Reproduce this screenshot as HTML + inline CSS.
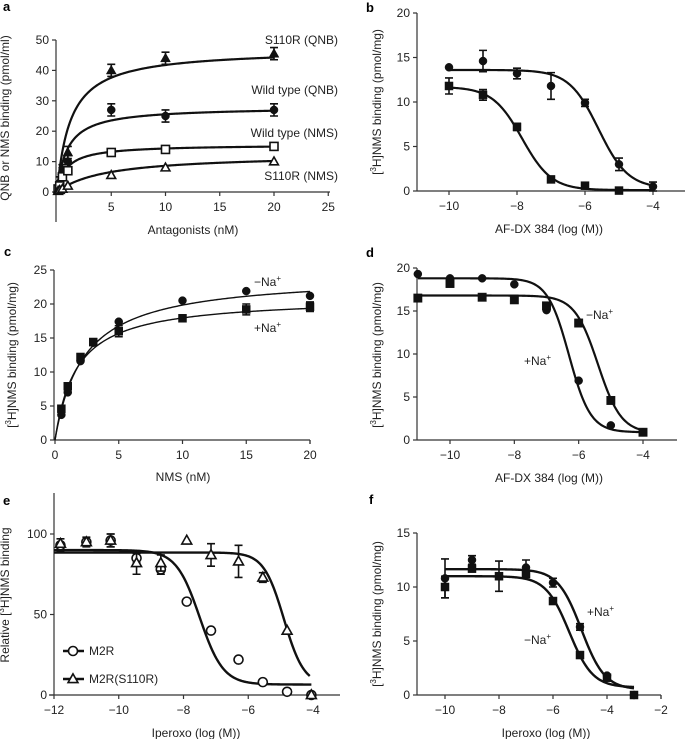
<!DOCTYPE html>
<html><head><meta charset="utf-8"><style>
body{margin:0;background:#fff}
svg{display:block;font-family:"Liberation Sans",Arial,sans-serif}
</style></head><body>
<svg id="fig" width="685" height="739" viewBox="0 0 685 739"></svg>
<script>
// ---------- data ----------
const aX=[0.1,0.25,0.5,1,5,10,20];
const aS110Q=[1,3,7,13,40,44,45.5];
const aWtQ=[1,3,6,10,27,25,27];
const aWtN=[1,2,5,7,13,14,15];
const aS110N=[0.3,0.6,1,2,5.5,8,10];
const aErr=[1,2,2,2,2,2,2];
const aFitS110Q=[47,1.25];const aFitWtQ=[28,0.95];const aFitWtN=[15.6,0.9];const aFitS110N=[12.5,4.5];
const aTicksX=[5,10,15,20,25];const aTicksY=[0,10,20,30,40,50];

const bX=[-10,-9,-8,-7,-6,-5,-4];
const bCirc=[13.9,14.6,13.2,11.8,9.9,3.0,0.5];
const bCircErr=[0,1.2,0.6,1.5,0.4,0.7,0.5];
const bSqX=[-10,-9,-8,-7,-6,-5];
const bSq=[11.8,10.8,7.2,1.3,0.6,0.05];
const bSqErr=[0.9,0.6,0.4,0,0,0];
const bFitCirc=[13.6,0.3,-5.6,1];const bFitSq=[11.7,0.1,-7.85,1];
const bTicksX=[-10,-8,-6,-4];const bTicksY=[0,5,10,15,20];

const cX=[0.5,1,2,3,5,10,15,20];
const cMinus=[3.7,7,11.6,14.3,17.4,20.5,21.9,21.2];
const cPlus=[4.6,7.9,12.2,14.4,16,17.9,19.2,19.6];
const cPlusErr=[0,0,0.5,0.5,0.8,0,0.8,0.7];
const cFitMinus=[24.3,2.25];const cFitPlus=[21,1.7];
const cTicksX=[0,5,10,15,20];const cTicksY=[0,5,10,15,20,25];

const dX=[-11,-10,-9,-8,-7,-6,-5,-4];
const dCirc=[19.3,18.8,18.8,18.1,15.1,6.9,1.7,0.9];
const dSq=[16.5,18.2,16.6,16.3,15.6,13.6,4.6,0.9];
const dFitCirc=[18.8,0.9,-6.3,1.3];const dFitSq=[16.8,0.8,-5.4,1.2];
const dTicksX=[-10,-8,-6,-4];const dTicksY=[0,5,10,15,20];

const eX=[-11.8,-11,-10.25,-9.45,-8.7,-7.9,-7.15,-6.3,-5.55,-4.8,-4.05];
const eM2R=[93,95,96,85,78,58,40,22,8,2,0];
const eM2RErr=[4,3,4,3,3,0,0,0,0,0,0];
const eS110=[94,95,96,82,82,96,87,83,73,40,0];
const eS110Err=[0,0,4,7,5,0,7,10,3,0,0];
const eFitM2R=[90,6.5,-7.5,1.2];const eFitS110=[88.5,6,-4.9,1.4];
const eTicksX=[-12,-10,-8,-6,-4];const eTicksY=[0,50,100];

const fX=[-10,-9,-8,-7,-6,-5,-4,-3];
const fPlus=[10.8,12.5,11,11.8,10.4,6.3,1.8,0];
const fPlusErr=[1.8,0.4,1.4,0.7,0.4,0.3,0,0];
const fMinus=[10,11.7,11,11.2,8.7,3.7,1.6,0];
const fMinusErr=[1,0.3,0.3,0.3,0,0,0,0];
const fFitPlus=[11.65,0.5,-4.95,1];const fFitMinus=[11.0,0.7,-5.4,1];
const fTicksX=[-10,-8,-6,-4,-2];const fTicksY=[0,5,10,15];

// ---------- drawing ----------
const NS="http://www.w3.org/2000/svg";
const svg=document.getElementById('fig');
function mk(tag,attrs,parent,text){const e=document.createElementNS(NS,tag);for(const k in attrs)e.setAttribute(k,attrs[k]);if(text!==undefined)e.textContent=text;(parent||svg).appendChild(e);return e;}
const INK="#222";
function panel(name,o){
  const g=mk('g',{},svg);
  
  
  const sx=v=>o.px0+(v-o.x0)*(o.px1-o.px0)/(o.x1-o.x0);
  const sy=v=>o.py0+(v-o.y0)*(o.py1-o.py0)/(o.y1-o.y0);
  const ax=mk('g',{stroke:"#333","stroke-width":1.2,fill:"none"},g);
  
  
  mk('line',{x1:o.ax,y1:o.axTop,x2:o.ax,y2:o.axBot},ax);
  mk('line',{x1:o.axL,y1:sy(0),x2:o.axR,y2:sy(0)},ax);
  o.ty.forEach(t=>{mk('line',{x1:o.ax-4,y1:sy(t),x2:o.ax,y2:sy(t)},ax);
    const tl=mk('text',{x:o.ax-7,y:sy(t)+4,"text-anchor":"end","font-size":12,fill:INK},g,String(t).replace('-','\u2212'));
    
    });
  o.tx.forEach(t=>{mk('line',{x1:sx(t),y1:sy(0),x2:sx(t),y2:sy(0)+4},ax);
    const tl=mk('text',{x:sx(t),y:sy(0)+19,"text-anchor":"middle","font-size":12,fill:INK},g,String(t).replace('-','\u2212'));
    
    });
  if(o.xEndTick)mk('line',{x1:o.axR,y1:sy(0),x2:o.axR,y2:sy(0)+4},ax);
  const xt=mk('text',{x:o.xtX,y:o.xtY,"text-anchor":"middle","font-size":12,fill:INK},g,o.xTitle);
  
  
  const yt=mk('text',{x:0,y:0,"text-anchor":"middle","font-size":12,fill:INK,transform:`translate(${o.ytX},${o.ytY}) rotate(-90)`},g);
  yt.innerHTML=o.yTitle;
  
  
  const pl=mk('text',{x:o.lblX,y:o.lblY,"font-size":13,"font-weight":"bold",fill:"#000"},g,o.lbl);
  
  
  return {g,sx,sy};
}
function curve(p,f,xa,xb,w,name){
  let d="";for(let i=0;i<=200;i++){const x=xa+(xb-xa)*i/200;d+=(i?"L":"M")+p.sx(x).toFixed(2)+","+p.sy(f(x)).toFixed(2);}
  const c=mk('path',{d,fill:"none",stroke:"#111","stroke-width":w},p.g);
  
  
}
const sig=q=>x=>q[1]+(q[0]-q[1])/(1+Math.pow(10,(x-q[2])*q[3]));
const hyp=q=>x=>q[0]*x/(q[1]+x);
function marker(g,shape,x,y,r,open){
  const st=open?{fill:"#fff",stroke:"#111","stroke-width":1.6}:{fill:"#111",stroke:"#111","stroke-width":0.5};
  if(shape==='c')return mk('circle',Object.assign({cx:x,cy:y,r},st),g);
  if(shape==='s')return mk('rect',Object.assign({x:x-r,y:y-r,width:2*r,height:2*r},st),g);
  return mk('polygon',Object.assign({points:`${x},${y-r*1.15} ${x-r*1.1},${y+r*0.8} ${x+r*1.1},${y+r*0.8}`},st),g);
}
function points(p,xs,ys,errs,shape,r,open,name){
  const g=mk('g',{},p.g);
  
  
  xs.forEach((x,i)=>{const X=p.sx(x),Y=p.sy(ys[i]);const e=errs?errs[i]:0;
    if(e>0){const y1=p.sy(ys[i]+e),y2=p.sy(ys[i]-e);
      mk('path',{d:`M${X},${y1}V${y2}M${X-4},${y1}H${X+4}M${X-4},${y2}H${X+4}`,stroke:"#111","stroke-width":1.6,fill:"none"},g);}
    const m=marker(g,shape,X,Y,r,open);
    
    });
}
function label(p,x,y,html,anchor,name){
  const t=mk('text',{x,y,"font-size":12,fill:INK,"text-anchor":anchor||"start"},p.g);
  t.innerHTML=html;
  
  
}
const NAp='Na<tspan dy="-5" font-size="8">+</tspan>';
const hy='[<tspan dy="-5" font-size="8">3</tspan><tspan dy="5">H]NMS binding</tspan>';

// Panel a
let p=panel('panel-a',{px0:57,x0:0,px1:274,x1:20,py0:192,y0:0,py1:40,y1:50,ax:56,axTop:40,axBot:222,axL:56,axR:330,
  tx:aTicksX,ty:aTicksY,xEndTick:false,xTitle:"Antagonists (nM)",xtX:193,xtY:234,yTitle:"QNB or NMS binding (pmol/ml)",ytX:9,ytY:118,lbl:"a",lblX:3,lblY:11});
curve(p,hyp(aFitS110Q),0,20,2.2,'curve-s110r-qnb');curve(p,hyp(aFitWtQ),0,20,2.2,'curve-wt-qnb');
curve(p,hyp(aFitWtN),0,20,2.2,'curve-wt-nms');curve(p,hyp(aFitS110N),0,20,2.2,'curve-s110r-nms');
points(p,aX,aS110Q,aErr,'t',4.5,false,'series-s110r-qnb');points(p,aX,aWtQ,aErr,'c',4,false,'series-wt-qnb');
points(p,aX,aWtN,aErr.map(v=>v/2),'s',4,true,'series-wt-nms');points(p,aX,aS110N,null,'t',4,true,'series-s110r-nms');
label(p,338,44,"S110R (QNB)","end",'label-s110r-qnb');label(p,338,94,"Wild type (QNB)","end",'label-wt-qnb');
label(p,338,137,"Wild type (NMS)","end",'label-wt-nms');label(p,338,180,"S110R (NMS)","end",'label-s110r-nms');

// Panel b
p=panel('panel-b',{px0:449,x0:-10,px1:653,x1:-4,py0:191,y0:0,py1:13,y1:20,ax:417,axTop:13,axBot:191,axL:417,axR:685,
  tx:bTicksX,ty:bTicksY,xTitle:"AF-DX 384 (log (M))",xtX:549,xtY:233,yTitle:hy+'<tspan>  (pmol/mg)</tspan>',ytX:381,ytY:102,lbl:"b",lblX:366,lblY:12});
curve(p,sig(bFitCirc),-10,-4,2.2,'curve-circles');curve(p,sig(bFitSq),-10,-4,2.2,'curve-squares');
points(p,bX,bCirc,bCircErr,'c',4,false,'series-circles');points(p,bSqX,bSq,bSqErr,'s',4,false,'series-squares');

// Panel c
p=panel('panel-c',{px0:55,x0:0,px1:310,x1:20,py0:440,y0:0,py1:270,y1:25,ax:54,axTop:270,axBot:440,axL:54,axR:310,
  tx:cTicksX,ty:cTicksY,xEndTick:true,xTitle:"NMS (nM)",xtX:183,xtY:481,yTitle:hy+'<tspan> (pmol/mg)</tspan>',ytX:16,ytY:355,lbl:"c",lblX:4,lblY:256});
curve(p,hyp(cFitMinus),0,20,1.4,'curve-minus-na');curve(p,hyp(cFitPlus),0,20,1.4,'curve-plus-na');
points(p,cX,cMinus,null,'c',4,false,'series-minus-na');points(p,cX,cPlus,cPlusErr,'s',4,false,'series-plus-na');
label(p,254,286,'\u2212'+NAp,"start",'label-minus-na');label(p,254,332,'+'+NAp,"start",'label-plus-na');

// Panel d
p=panel('panel-d',{px0:450,x0:-10,px1:643,x1:-4,py0:440,y0:0,py1:268,y1:20,ax:417,axTop:268,axBot:440,axL:417,axR:677,
  tx:dTicksX,ty:dTicksY,xTitle:"AF-DX 384 (log (M))",xtX:549,xtY:482,yTitle:hy+'<tspan> (pmol/mg)</tspan>',ytX:381,ytY:355,lbl:"d",lblX:366,lblY:257});
curve(p,sig(dFitCirc),-11,-4,2.2,'curve-plus-na');curve(p,sig(dFitSq),-11,-4,2.2,'curve-minus-na');
points(p,dX,dCirc,null,'c',4,false,'series-plus-na');points(p,dX,dSq,null,'s',4.2,false,'series-minus-na');
label(p,586,319,'\u2212'+NAp,"start",'label-minus-na');label(p,524,365,'+'+NAp,"start",'label-plus-na');

// Panel e
p=panel('panel-e',{px0:54,x0:-12,px1:313,x1:-4,py0:695,y0:0,py1:534,y1:100,ax:54,axTop:493,axBot:695,axL:49,axR:340,
  tx:eTicksX,ty:eTicksY,xTitle:"Iperoxo (log (M))",xtX:196,xtY:737,yTitle:'Relative '+hy,ytX:9,ytY:595,lbl:"e",lblX:3,lblY:505});
curve(p,sig(eFitM2R),-12,-4.05,2.4,'curve-m2r');curve(p,sig(eFitS110),-12,-4.1,2.4,'curve-m2r-s110r');
points(p,eX,eM2R,eM2RErr,'c',4.5,true,'series-m2r');points(p,eX,eS110,eS110Err,'t',4.5,true,'series-m2r-s110r');
const lg=mk('g',{},p.g);


mk('line',{x1:63,y1:651,x2:84,y2:651,stroke:"#111","stroke-width":2.4},lg);marker(lg,'c',73,651,4.5,true);
mk('text',{x:89,y:655,"font-size":12,fill:INK},lg,"M2R");
mk('line',{x1:63,y1:679,x2:84,y2:679,stroke:"#111","stroke-width":2.4},lg);marker(lg,'t',73,679,4.5,true);
mk('text',{x:89,y:683,"font-size":12,fill:INK},lg,"M2R(S110R)");

// Panel f
p=panel('panel-f',{px0:445,x0:-10,px1:661,x1:-2,py0:695,y0:0,py1:533,y1:15,ax:417,axTop:533,axBot:695,axL:417,axR:661,
  tx:fTicksX,ty:fTicksY,xEndTick:true,xTitle:"Iperoxo (log (M))",xtX:546,xtY:737,yTitle:hy+'<tspan>  (pmol/mg)</tspan>',ytX:381,ytY:614,lbl:"f",lblX:369,lblY:504});
curve(p,sig(fFitPlus),-10,-3,2.4,'curve-plus-na');curve(p,sig(fFitMinus),-10,-3,2.4,'curve-minus-na');
points(p,fX,fPlus,fPlusErr,'c',4,false,'series-plus-na');points(p,fX,fMinus,fMinusErr,'s',4,false,'series-minus-na');
label(p,587,616,'+'+NAp,"start",'label-plus-na');label(p,524,644,'\u2212'+NAp,"start",'label-minus-na');
</script>
</body></html>
